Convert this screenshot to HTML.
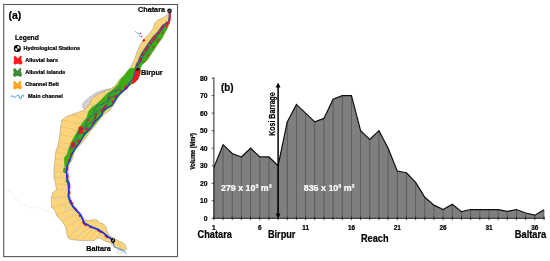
<!DOCTYPE html>
<html><head><meta charset="utf-8"><title>Kosi figure</title>
<style>
html,body{margin:0;padding:0;background:#fff;}
body{width:550px;height:261px;overflow:hidden;}
svg{display:block}
text{font-family:"Liberation Sans",sans-serif;font-weight:bold;fill:#000;stroke:#000;stroke-width:0.22px;stroke-linejoin:round}
</style></head><body>
<svg width="550" height="261" viewBox="0 0 550 261">
<defs>
<filter id="soft" x="-5%" y="-5%" width="110%" height="110%"><feGaussianBlur stdDeviation="0.42"/></filter>
<filter id="soft2" x="-10%" y="-10%" width="120%" height="120%"><feGaussianBlur stdDeviation="0.3"/></filter>
</defs>
<rect width="550" height="261" fill="#fff"/>
<!-- map frame -->
<rect x="3.7" y="4.5" width="173.8" height="252.1" fill="#fff" stroke="#5a5a5a" stroke-width="1.1"/>
<g id="map" filter="url(#soft)">
<path d="M5,190 l3,2 l2,-1 l3,3 l2,5 l3,1 l2,4 l4,2 l3,-1 l3,3 l4,-2 l3,2 l4,0 l3,3 l4,-1 l3,-3 l3,1" fill="none" stroke="#d9d2c2" stroke-width="0.6" stroke-dasharray="1 0.8"/>
<path d="M111.0,88.6 L102.2,90.4 L95.3,93.2 L89.6,97.2 L85.0,101.0 L82.6,104.5 L83.0,108.0 L85.5,109.5 L88.3,108.6 L90.5,103.5 L92.3,99.6 L96.5,95.6 L101.1,92.8 L111.0,90.4 Z" fill="#d2d2d2" stroke="#8f8f8f" stroke-width="0.5"/>
<path d="M168.5,13.0 L167.0,14.9 L162.9,17.8 L158.9,19.5 L156.0,21.8 L154.3,24.1 L153.7,27.0 L152.6,29.3 L150.9,31.6 L149.0,34.2 L147.6,35.4 L145.3,37.7 L141.9,42.3 L139.6,45.8 L138.4,49.2 L136.7,52.7 L135.6,56.1 L134.6,59.5 L132.9,62.9 L131.2,66.3 L128.9,69.2 L126.6,72.1 L124.3,75.0 L122.0,77.3 L119.5,79.4 L117.5,82.0 L115.8,84.9 L112.9,87.2 L110.0,89.2 L106.6,90.6 L103.0,92.0 L99.0,94.0 L95.0,96.0 L91.5,99.5 L89.8,103.4 L86.5,108.0 L83.4,110.3 L78.0,112.4 L72.0,114.5 L66.5,116.5 L62.0,120.0 L60.7,126.5 L59.8,134.2 L58.8,141.8 L57.6,147.0 L55.9,151.0 L55.2,156.9 L54.6,163.8 L54.0,170.7 L54.1,177.6 L55.6,184.0 L56.5,189.8 L53.0,192.5 L51.4,198.0 L51.4,203.0 L51.9,207.6 L55.3,211.0 L56.5,215.7 L62.2,221.4 L65.7,227.2 L66.8,233.0 L68.0,237.8 L71.0,239.4 L74.9,240.0 L81.8,240.5 L88.6,240.6 L94.4,240.4 L97.2,238.4 L99.9,237.8 L102.5,239.6 L105.7,241.4 L110.0,242.5 L112.5,245.0 L114.5,247.5 L118.3,248.0 L122.0,249.8 L125.0,250.5 L126.6,249.0 L125.6,245.4 L122.5,242.6 L119.0,241.2 L114.3,238.6 L108.9,235.2 L108.0,233.0 L106.8,230.5 L106.2,227.0 L103.2,223.8 L99.4,222.8 L97.0,220.0 L91.5,219.8 L88.0,220.8 L85.5,220.2 L83.5,218.0 L79.5,212.5 L75.0,207.0 L71.5,201.5 L70.0,196.0 L69.6,191.0 L69.5,184.0 L68.6,177.2 L68.0,172.0 L68.5,167.2 L69.6,163.8 L71.3,161.5 L73.1,157.0 L73.6,153.4 L75.2,150.0 L77.5,147.0 L80.5,144.5 L83.5,141.0 L86.2,137.5 L89.0,133.2 L92.0,129.5 L95.0,126.0 L97.5,122.5 L100.5,118.4 L103.2,115.3 L106.0,113.0 L109.5,110.5 L111.8,107.5 L114.2,104.0 L115.4,102.0 L117.0,98.7 L119.2,95.8 L122.7,92.4 L126.1,88.9 L129.6,85.5 L132.4,83.5 L135.2,82.0 L137.5,79.6 L139.3,76.1 L140.4,72.1 L140.4,68.1 L141.6,65.2 L145.3,62.0 L148.2,59.0 L150.5,55.0 L152.8,51.5 L155.1,48.1 L157.4,44.6 L159.7,41.2 L162.0,38.3 L163.5,35.0 L165.2,32.1 L167.0,28.7 L168.7,25.2 L169.3,21.8 L170.4,19.5 L170.6,14.9 L169.6,11.8 Z" fill="#fcd47a" stroke="#a59b86" stroke-width="0.6" stroke-linejoin="round"/>
<ellipse cx="119.8" cy="251.8" rx="2.6" ry="1.6" fill="#fff" stroke="#b5b5b5" stroke-width="0.5"/>
<g stroke="#c4a468" stroke-width="0.4" fill="none" opacity="0.8"><line x1="137.5" y1="51.5" x2="141.5" y2="54.0"/><line x1="135.3" y1="57.0" x2="139.5" y2="59.5"/><line x1="133.2" y1="63.0" x2="137.5" y2="65.5"/><line x1="149.5" y1="36.0" x2="154.0" y2="39.0"/><line x1="155.0" y1="28.0" x2="159.5" y2="31.5"/><line x1="103.0" y1="92.0" x2="107.5" y2="97.0"/><line x1="95.0" y1="96.0" x2="100.5" y2="102.5"/><line x1="89.6" y1="103.4" x2="94.5" y2="108.0"/><line x1="83.4" y1="110.3" x2="89.0" y2="113.5"/><line x1="72.0" y1="114.5" x2="84.0" y2="118.5"/><line x1="62.0" y1="120.0" x2="80.5" y2="124.0"/><line x1="60.7" y1="126.5" x2="77.0" y2="130.5"/><line x1="59.8" y1="134.2" x2="74.0" y2="137.5"/><line x1="58.8" y1="141.8" x2="70.5" y2="144.0"/><line x1="57.6" y1="147.0" x2="68.0" y2="149.5"/><line x1="56.5" y1="152.0" x2="66.0" y2="154.5"/><line x1="55.3" y1="158.8" x2="64.5" y2="160.5"/><line x1="54.7" y1="165.0" x2="65.0" y2="166.5"/><line x1="54.7" y1="171.0" x2="65.5" y2="172.5"/><line x1="54.7" y1="177.2" x2="66.5" y2="178.0"/><line x1="56.0" y1="184.0" x2="67.5" y2="184.5"/><line x1="56.5" y1="189.8" x2="67.5" y2="190.0"/><line x1="51.4" y1="198.0" x2="67.5" y2="196.5"/><line x1="51.9" y1="207.6" x2="70.0" y2="203.0"/><line x1="56.5" y1="215.7" x2="73.0" y2="208.5"/><line x1="62.2" y1="221.4" x2="77.0" y2="214.0"/><line x1="65.7" y1="227.2" x2="81.0" y2="219.0"/><line x1="68.0" y1="237.5" x2="83.5" y2="224.0"/><line x1="74.9" y1="238.9" x2="89.0" y2="227.5"/><line x1="81.8" y1="239.6" x2="93.0" y2="229.0"/><line x1="88.6" y1="240.0" x2="97.0" y2="230.0"/><line x1="97.0" y1="237.2" x2="101.0" y2="232.5"/><line x1="118.0" y1="241.3" x2="121.0" y2="249.4"/></g>
<g fill="#c9d3ee"><ellipse cx="60.0" cy="160.0" rx="1.2" ry="0.7"/><ellipse cx="62.5" cy="166.0" rx="0.8" ry="1.0"/><ellipse cx="59.5" cy="172.0" rx="0.9" ry="0.6"/><ellipse cx="61.0" cy="178.0" rx="0.7" ry="1.0"/><ellipse cx="63.0" cy="186.0" rx="1.0" ry="0.7"/><ellipse cx="58.0" cy="199.0" rx="1.6" ry="0.7"/><ellipse cx="62.0" cy="204.0" rx="1.0" ry="0.7"/><ellipse cx="66.0" cy="209.0" rx="1.3" ry="0.8"/><ellipse cx="70.5" cy="215.0" rx="1.5" ry="0.8"/><ellipse cx="74.0" cy="221.0" rx="1.2" ry="0.7"/><ellipse cx="76.5" cy="229.0" rx="1.3" ry="1.0"/><ellipse cx="81.0" cy="233.0" rx="1.0" ry="0.7"/><ellipse cx="60.5" cy="194.0" rx="1.0" ry="0.6"/><ellipse cx="65.0" cy="218.0" rx="0.8" ry="0.6"/></g>
<path d="M167.8,22.0 L162.5,25.0 L159.8,28.7 L157.5,32.0 L154.0,35.4 L151.1,38.9 L148.2,42.9 L145.9,46.4 L143.6,49.8 L141.3,53.3 L139.6,56.7 L138.2,60.7 L136.0,64.6 L135.2,68.0 L130.0,68.6 L128.9,69.6 L126.6,72.5 L124.3,75.4 L122.0,77.7 L120.2,79.9 L118.1,84.3 L114.6,87.8 L111.2,90.7 L107.7,93.0 L103.5,97.3 L99.5,101.5 L96.0,104.5 L91.8,107.4 L88.9,110.9 L87.8,114.3 L86.6,117.8 L83.7,121.2 L81.4,124.7 L79.0,127.5 L77.2,131.7 L73.8,137.5 L70.9,143.2 L68.6,149.0 L66.9,154.7 L64.6,157.5 L64.4,161.0 L64.8,166.5 L67.5,166.5 L68.5,164.0 L70.2,161.0 L71.0,158.0 L72.7,154.5 L76.0,148.8 L80.0,143.0 L83.6,137.3 L85.5,135.1 L87.3,132.8 L90.5,129.3 L93.5,125.8 L96.5,122.3 L99.3,118.8 L102.3,115.3 L103.8,112.2 L107.2,109.2 L112.2,106.0 L115.6,101.0 L118.0,97.5 L120.9,94.1 L124.4,90.6 L131.0,84.3 L135.2,82.0 L137.5,79.6 L139.3,76.1 L140.2,72.1 L140.2,68.3 L140.3,68.0 L142.0,64.6 L146.5,60.7 L149.3,56.7 L151.5,53.3 L153.9,49.8 L156.2,46.4 L158.5,42.9 L161.5,38.9 L163.3,35.4 L165.2,32.0 L167.0,28.7 L168.6,25.0 L169.6,22.0 Z" fill="#3dab12" stroke="#3dab12" stroke-width="0.5" stroke-linejoin="round"/>
<g fill="#3dab12"><ellipse cx="67.2" cy="158.6" rx="2.6" ry="3"/><ellipse cx="64.9" cy="170.2" rx="1.8" ry="2.9"/><ellipse cx="66.4" cy="181" rx="0.9" ry="1.8"/></g>
<g fill="none" stroke="#f0141e" stroke-linecap="butt" stroke-linejoin="round">
<path d="M170.0,12.8 L169.9,18.0 L169.0,22.5 L166.5,25.0" stroke-width="1.7"/>
<path d="M163.8,25.0 L161.3,28.7 L159.1,32.0 L156.0,35.4 L153.3,38.9 L150.4,42.9 L148.1,46.4 L145.8,49.8 L143.4,53.3 L141.6,56.7 L139.9,60.7 L137.3,64.6 L136.3,68.0" stroke-width="1.9" stroke-dasharray="7 1.2 4 1.5 6 1 3 2"/>
<path d="M167.3,25.0 L165.4,28.7 L163.5,32.0 L161.3,35.4 L159.2,38.9 L156.2,42.9 L153.9,46.4 L151.6,49.8 L149.3,53.3 L147.2,56.7 L144.7,60.7 L140.7,64.6 L139.2,68.0" stroke-width="1.1" stroke-dasharray="3 5 2 6 4 5 2.5 7"/>
<path d="M128.9,83.5 L123.0,89.2 L118.8,92.0 L116.1,95.6 L114.2,99.6 L109.9,103.7 L104.6,106.6 L102.0,110.4 L100.3,113.8 L96.1,116.4 L93.7,119.7 L92.1,124.2 L89.0,127.6 L85.3,130.1 L83.6,132.9 L82.4,136.3 L78.4,141.6 L74.3,146.9 L71.7,153.2 L70.2,157.4 L68.6,160.0 L67.2,163.0 L66.9,166.5" stroke-width="1.9" stroke-dasharray="0 3 3 4 2 5 3.5 3 2 6 4 3 2 4"/>
<path d="M67.3,167.0 L67.0,172.0 L67.8,178.0 L69.2,184.0 L69.6,190.0 L69.2,196.0 L71.0,201.6 L74.4,207.0 L78.2,213.4 L81.0,217.6 L83.2,222.6 L86.0,225.6 L90.0,226.8 L96.8,229.8 L101.6,232.4 L104.6,235.2 L108.0,237.6" stroke-width="1.9" stroke-dasharray="4 4 2.5 5 6 3 3 6 5 4"/>
</g>
<g fill="#f0141e"><path d="M135.4,68.8 L140.2,68.5 L140.3,72.5 L139.2,76.3 L137.8,79.4 L135.5,82.0 L132.8,83.8 L130.6,83.6 L132.6,80.4 L133.6,77.0 L134.5,73.2 Z"/><path d="M78.6,127.4 L81.0,126.0 L83.0,127.5 L83.0,131.0 L81.5,133.5 L79.5,134.6 L78.2,133.0 L78.8,130.0 Z"/><path d="M71.2,142.4 L74.0,141.6 L75.2,143.4 L74.0,146.2 L72.6,148.4 L70.8,148.6 L70.8,145.4 Z"/><ellipse cx="126.2" cy="87.8" rx="2.6" ry="1.6" transform="rotate(-45 126.2 87.8)"/><ellipse cx="115.8" cy="96.4" rx="1.9" ry="1.2" transform="rotate(-50 115.8 96.4)"/><ellipse cx="109.5" cy="97.6" rx="1.2" ry="0.9" transform="rotate(-45 109.5 97.6)"/><ellipse cx="116.0" cy="90.0" rx="0.9" ry="0.7" transform="rotate(0 116.0 90.0)"/><ellipse cx="103.6" cy="109.0" rx="1.6" ry="1.1" transform="rotate(-45 103.6 109.0)"/><ellipse cx="96.5" cy="114.3" rx="1.3" ry="1.0" transform="rotate(-45 96.5 114.3)"/><ellipse cx="94.6" cy="121.0" rx="1.3" ry="0.9" transform="rotate(-50 94.6 121.0)"/><ellipse cx="88.8" cy="120.0" rx="1.1" ry="0.9" transform="rotate(-50 88.8 120.0)"/><ellipse cx="143.8" cy="40.4" rx="1.5" ry="1.2" transform="rotate(-40 143.8 40.4)"/><ellipse cx="141.6" cy="36.6" rx="0.8" ry="0.7" transform="rotate(0 141.6 36.6)"/><ellipse cx="140.6" cy="33.4" rx="0.7" ry="0.6" transform="rotate(0 140.6 33.4)"/><ellipse cx="166.2" cy="23.5" rx="0.8" ry="2.2" transform="rotate(15 166.2 23.5)"/></g>
<g fill="none" stroke="#2438dc" stroke-linejoin="round">
<path d="M164.8,25.0 L162.9,28.7 L160.1,32.0 L157.1,35.4 L155.6,38.9 L152.0,42.9 L149.1,46.4 L147.8,49.8 L145.4,53.3 L142.6,56.7 L141.3,60.7 L138.5,64.6 L136.9,68.0" stroke-width="0.8"/><path d="M135.6,68.6 L134.6,73.2 L133.4,77.8 L131.0,81.0 L127.8,84.0" stroke-width="0.9"/>
<path d="M120.5,86.7 L117.3,90.5 L112.5,92.0 L109.3,94.6 L107.3,101.1 L102.3,104.3 L97.1,105.6 L94.7,109.6 L93.7,114.5 L90.3,116.6 L87.6,119.0 L86.1,124.1 L84.0,128.3 L80.4,129.1 L78.4,132.7 L76.4,139.8 L72.9,145.4 L69.2,149.9" stroke-width="0.65"/><path d="M115.9,95.4 L111.6,96.9 L108.2,102.0 L105.1,107.1 L100.9,109.3 L96.7,111.1 L95.2,115.7 L94.1,120.1 L90.5,122.3 L87.0,125.1 L85.3,130.1" stroke-width="0.5"/>
<path d="M169.2,13.0 L169.0,17.0 L168.2,22.0 L162.9,25.0 L160.3,28.7 L158.0,32.0 L154.7,35.4 L151.8,38.9 L148.9,42.9 L146.6,46.4 L144.3,49.8 L142.0,53.3 L140.3,56.7 L138.8,60.7 L136.4,64.6 L135.6,68.0" stroke-width="0.8"/>
<path d="M129.9,83.9 L124.1,90.3 L120.2,93.4 L117.0,96.5 L115.0,100.4 L111.7,105.5 L106.2,108.2 L102.8,111.2 L101.7,114.8 L98.5,118.2 L95.2,121.1 L92.8,124.9 L90.2,128.9 L86.7,131.9 L84.5,134.0 L83.1,136.8 L79.7,142.7 L75.3,148.1 L72.1,153.7 L70.7,157.8 L69.8,160.7 L67.9,163.6 L67.2,166.5 L66.8,166.0 L66.4,172.0 L67.0,178.0 L68.4,184.0 L68.8,190.0 L68.4,196.0 L70.2,202.0 L73.6,207.5 L78.4,212.5 L80.4,214.5 L82.3,218.7 L84.6,223.3 L89.2,225.8 L93.8,227.9 L98.4,229.6 L103.0,232.6 L107.6,236.4 L112.4,239.8 L113.6,244.0" stroke-width="1.3"/><path d="M66.4,172.0 L67.0,178.0 L68.4,184.0 L68.8,190.0 L68.4,196.0 L70.2,202.0 L73.6,207.5 L78.4,212.5 L80.4,214.5 L82.3,218.7 L84.6,223.3 L89.2,225.8 L93.8,227.9 L98.4,229.6 L103.0,232.6 L107.6,236.4 L112.4,239.8" stroke-width="1.7"/>
</g>
<path d="M134.8,31.6 l1.6,0.4 l1.2,1.4 l1.4,0.2 l0.8,1.6 l0.6,2" fill="none" stroke="#3a8be0" stroke-width="0.7"/>
<path d="M113.6,244 L114.4,246.6 L118.3,248.8 L123,250.2 L126,253.5" fill="none" stroke="#3a8be0" stroke-width="1"/>
</g>
<g id="markers" filter="url(#soft2)">
<g transform="translate(169.5,10.8)"><circle r="1.7" fill="#fff" stroke="#000" stroke-width="1.19"/><path d="M0,0 L0,-1.7 A1.7,1.7 0 0 0 -1.7,0 Z M0,0 L0,1.7 A1.7,1.7 0 0 0 1.7,0 Z" fill="#000"/></g>
<g transform="translate(113,240.4)"><circle r="1.65" fill="#fff" stroke="#000" stroke-width="1.15"/><path d="M0,0 L0,-1.65 A1.65,1.65 0 0 0 -1.65,0 Z M0,0 L0,1.65 A1.65,1.65 0 0 0 1.65,0 Z" fill="#000"/></g>
<path d="M136.4,68.4 l2.4,-0.4 l0.8,1.6 l-1.6,1.2 l-1.8,-0.6z" fill="#000"/>
</g>
<g id="maplabels" filter="url(#soft2)">
<text x="8.4" y="18.5" font-size="10.6" textLength="12.8" lengthAdjust="spacingAndGlyphs">(a)</text>
<text x="138" y="12.45" font-size="7.7" textLength="27" lengthAdjust="spacingAndGlyphs">Chatara</text>
<text x="140.9" y="74.8" font-size="7.7" textLength="21.8" lengthAdjust="spacingAndGlyphs">Birpur</text>
<text x="86.2" y="251.4" font-size="7.7" textLength="24.6" lengthAdjust="spacingAndGlyphs">Baltara</text>
<text x="15" y="39.9" font-size="6.7">Legend</text>
<g font-size="5.5">
<text x="23.6" y="50.3">Hydrological Stations</text>
<text x="25.3" y="62.3">Alluvial bars</text>
<text x="25.3" y="74.3">Alluvial islands</text>
<text x="25.3" y="86.3">Channel Belt</text>
<text x="28" y="97.7">Main channel</text>
</g>
<g transform="translate(17.3,48.4)"><circle r="2.95" fill="#fff" stroke="#000" stroke-width="1.12"/><path d="M0,0 L0,-2.95 A2.95,2.95 0 0 0 -2.95,0 Z M0,0 L0,2.95 A2.95,2.95 0 0 0 2.95,0 Z" fill="#000"/></g>
<path d="M-3.1,-4.2 C-1.9,-4.4 -1,-2.2 0,-1.7 C1,-2.2 2,-4.8 3.3,-4.4 C4.5,-4 3.0,-1.6 3.4,-0.4 C4.6,1 4.8,3 3.7,4 C2.6,4.8 1,3.5 0,3.2 C-1,3.5 -2.6,4.8 -3.7,4 C-4.8,3 -4.4,1 -3.6,-0.2 C-4.6,-1.5 -4.4,-4 -3.1,-4.2Z" transform="translate(17.9,60.2)" fill="#ff1a1a"/>
<path d="M-3.1,-4.2 C-1.9,-4.4 -1,-2.2 0,-1.7 C1,-2.2 2,-4.8 3.3,-4.4 C4.5,-4 3.0,-1.6 3.4,-0.4 C4.6,1 4.8,3 3.7,4 C2.6,4.8 1,3.5 0,3.2 C-1,3.5 -2.6,4.8 -3.7,4 C-4.8,3 -4.4,1 -3.6,-0.2 C-4.6,-1.5 -4.4,-4 -3.1,-4.2Z" transform="translate(17.5,72.5)" fill="#3a8c33"/>
<path d="M-3.1,-4.2 C-1.9,-4.4 -1,-2.2 0,-1.7 C1,-2.2 2,-4.8 3.3,-4.4 C4.5,-4 3.0,-1.6 3.4,-0.4 C4.6,1 4.8,3 3.7,4 C2.6,4.8 1,3.5 0,3.2 C-1,3.5 -2.6,4.8 -3.7,4 C-4.8,3 -4.4,1 -3.6,-0.2 C-4.6,-1.5 -4.4,-4 -3.1,-4.2Z" transform="translate(17.5,85.1)" fill="#ffa41c"/>
<path d="M10.8,96.6 q1.2,-1.6 2.4,-0.2 t2.2,0.6 t2,-1.8 t2,2.2 t2.2,-0.6 t2,-0.2" fill="none" stroke="#1f7ff0" stroke-width="0.9"/>
</g>
<!-- chart -->
<g id="chart" filter="url(#soft2)">
<path d="M213.90,218.30 L213.90,167.48 L223.07,144.69 L232.24,153.46 L241.41,156.96 L250.58,148.20 L259.75,156.96 L268.91,156.96 L278.08,165.73 L287.25,121.91 L296.42,104.39 L305.59,113.15 L314.76,121.91 L323.93,118.41 L333.10,99.13 L342.27,95.63 L351.44,95.63 L360.60,130.68 L369.77,139.44 L378.94,130.68 L388.11,148.20 L397.28,170.98 L406.45,172.74 L415.62,182.37 L424.79,197.27 L433.96,205.16 L443.12,209.54 L452.29,204.28 L461.46,211.64 L470.63,209.54 L479.80,209.54 L488.97,209.54 L498.14,209.54 L507.31,211.29 L516.48,209.54 L525.65,213.04 L534.82,215.15 L543.98,209.89 L543.98,218.30 Z" fill="#7f7f7f"/>
<g stroke="#4d4d4d" stroke-width="0.7"><line x1="213.90" y1="167.48" x2="213.90" y2="218.30"/><line x1="223.07" y1="144.69" x2="223.07" y2="218.30"/><line x1="232.24" y1="153.46" x2="232.24" y2="218.30"/><line x1="241.41" y1="156.96" x2="241.41" y2="218.30"/><line x1="250.58" y1="148.20" x2="250.58" y2="218.30"/><line x1="259.75" y1="156.96" x2="259.75" y2="218.30"/><line x1="268.91" y1="156.96" x2="268.91" y2="218.30"/><line x1="278.08" y1="165.73" x2="278.08" y2="218.30"/><line x1="287.25" y1="121.91" x2="287.25" y2="218.30"/><line x1="296.42" y1="104.39" x2="296.42" y2="218.30"/><line x1="305.59" y1="113.15" x2="305.59" y2="218.30"/><line x1="314.76" y1="121.91" x2="314.76" y2="218.30"/><line x1="323.93" y1="118.41" x2="323.93" y2="218.30"/><line x1="333.10" y1="99.13" x2="333.10" y2="218.30"/><line x1="342.27" y1="95.63" x2="342.27" y2="218.30"/><line x1="351.44" y1="95.63" x2="351.44" y2="218.30"/><line x1="360.60" y1="130.68" x2="360.60" y2="218.30"/><line x1="369.77" y1="139.44" x2="369.77" y2="218.30"/><line x1="378.94" y1="130.68" x2="378.94" y2="218.30"/><line x1="388.11" y1="148.20" x2="388.11" y2="218.30"/><line x1="397.28" y1="170.98" x2="397.28" y2="218.30"/><line x1="406.45" y1="172.74" x2="406.45" y2="218.30"/><line x1="415.62" y1="182.37" x2="415.62" y2="218.30"/><line x1="424.79" y1="197.27" x2="424.79" y2="218.30"/><line x1="433.96" y1="205.16" x2="433.96" y2="218.30"/><line x1="443.12" y1="209.54" x2="443.12" y2="218.30"/><line x1="452.29" y1="204.28" x2="452.29" y2="218.30"/><line x1="461.46" y1="211.64" x2="461.46" y2="218.30"/><line x1="470.63" y1="209.54" x2="470.63" y2="218.30"/><line x1="479.80" y1="209.54" x2="479.80" y2="218.30"/><line x1="488.97" y1="209.54" x2="488.97" y2="218.30"/><line x1="498.14" y1="209.54" x2="498.14" y2="218.30"/><line x1="507.31" y1="211.29" x2="507.31" y2="218.30"/><line x1="516.48" y1="209.54" x2="516.48" y2="218.30"/><line x1="525.65" y1="213.04" x2="525.65" y2="218.30"/><line x1="534.82" y1="215.15" x2="534.82" y2="218.30"/><line x1="543.98" y1="209.89" x2="543.98" y2="218.30"/></g>
<path d="M213.90,167.48 L223.07,144.69 L232.24,153.46 L241.41,156.96 L250.58,148.20 L259.75,156.96 L268.91,156.96 L278.08,165.73 L287.25,121.91 L296.42,104.39 L305.59,113.15 L314.76,121.91 L323.93,118.41 L333.10,99.13 L342.27,95.63 L351.44,95.63 L360.60,130.68 L369.77,139.44 L378.94,130.68 L388.11,148.20 L397.28,170.98 L406.45,172.74 L415.62,182.37 L424.79,197.27 L433.96,205.16 L443.12,209.54 L452.29,204.28 L461.46,211.64 L470.63,209.54 L479.80,209.54 L488.97,209.54 L498.14,209.54 L507.31,211.29 L516.48,209.54 L525.65,213.04 L534.82,215.15 L543.98,209.89" fill="none" stroke="#111" stroke-width="1.2" stroke-linejoin="miter"/>
<line x1="213.9" y1="77.5" x2="213.9" y2="218.8" stroke="#222" stroke-width="1"/>
<line x1="213.4" y1="218.3" x2="545" y2="218.3" stroke="#222" stroke-width="1"/>
<g stroke="#222" stroke-width="0.8"><line x1="213.90" y1="216.50" x2="213.90" y2="220.10"/><line x1="223.07" y1="216.50" x2="223.07" y2="220.10"/><line x1="232.24" y1="216.50" x2="232.24" y2="220.10"/><line x1="241.41" y1="216.50" x2="241.41" y2="220.10"/><line x1="250.58" y1="216.50" x2="250.58" y2="220.10"/><line x1="259.75" y1="216.50" x2="259.75" y2="220.10"/><line x1="268.91" y1="216.50" x2="268.91" y2="220.10"/><line x1="278.08" y1="216.50" x2="278.08" y2="220.10"/><line x1="287.25" y1="216.50" x2="287.25" y2="220.10"/><line x1="296.42" y1="216.50" x2="296.42" y2="220.10"/><line x1="305.59" y1="216.50" x2="305.59" y2="220.10"/><line x1="314.76" y1="216.50" x2="314.76" y2="220.10"/><line x1="323.93" y1="216.50" x2="323.93" y2="220.10"/><line x1="333.10" y1="216.50" x2="333.10" y2="220.10"/><line x1="342.27" y1="216.50" x2="342.27" y2="220.10"/><line x1="351.44" y1="216.50" x2="351.44" y2="220.10"/><line x1="360.60" y1="216.50" x2="360.60" y2="220.10"/><line x1="369.77" y1="216.50" x2="369.77" y2="220.10"/><line x1="378.94" y1="216.50" x2="378.94" y2="220.10"/><line x1="388.11" y1="216.50" x2="388.11" y2="220.10"/><line x1="397.28" y1="216.50" x2="397.28" y2="220.10"/><line x1="406.45" y1="216.50" x2="406.45" y2="220.10"/><line x1="415.62" y1="216.50" x2="415.62" y2="220.10"/><line x1="424.79" y1="216.50" x2="424.79" y2="220.10"/><line x1="433.96" y1="216.50" x2="433.96" y2="220.10"/><line x1="443.12" y1="216.50" x2="443.12" y2="220.10"/><line x1="452.29" y1="216.50" x2="452.29" y2="220.10"/><line x1="461.46" y1="216.50" x2="461.46" y2="220.10"/><line x1="470.63" y1="216.50" x2="470.63" y2="220.10"/><line x1="479.80" y1="216.50" x2="479.80" y2="220.10"/><line x1="488.97" y1="216.50" x2="488.97" y2="220.10"/><line x1="498.14" y1="216.50" x2="498.14" y2="220.10"/><line x1="507.31" y1="216.50" x2="507.31" y2="220.10"/><line x1="516.48" y1="216.50" x2="516.48" y2="220.10"/><line x1="525.65" y1="216.50" x2="525.65" y2="220.10"/><line x1="534.82" y1="216.50" x2="534.82" y2="220.10"/><line x1="543.98" y1="216.50" x2="543.98" y2="220.10"/><line x1="211.70" y1="218.30" x2="213.90" y2="218.30"/><line x1="211.70" y1="200.78" x2="213.90" y2="200.78"/><line x1="211.70" y1="183.25" x2="213.90" y2="183.25"/><line x1="211.70" y1="165.73" x2="213.90" y2="165.73"/><line x1="211.70" y1="148.20" x2="213.90" y2="148.20"/><line x1="211.70" y1="130.68" x2="213.90" y2="130.68"/><line x1="211.70" y1="113.15" x2="213.90" y2="113.15"/><line x1="211.70" y1="95.63" x2="213.90" y2="95.63"/><line x1="211.70" y1="78.10" x2="213.90" y2="78.10"/></g>
<g font-size="6.8"><text x="207.6" y="220.70" text-anchor="end">0</text><text x="207.6" y="203.18" text-anchor="end">10</text><text x="207.6" y="185.65" text-anchor="end">20</text><text x="207.6" y="168.13" text-anchor="end">30</text><text x="207.6" y="150.60" text-anchor="end">40</text><text x="207.6" y="133.08" text-anchor="end">50</text><text x="207.6" y="115.55" text-anchor="end">60</text><text x="207.6" y="98.03" text-anchor="end">70</text><text x="207.6" y="80.50" text-anchor="end">80</text></g>
<g font-size="6.4"><text x="213.90" y="229.5" text-anchor="middle">1</text><text x="259.75" y="229.5" text-anchor="middle">6</text><text x="305.59" y="229.5" text-anchor="middle">11</text><text x="351.44" y="229.5" text-anchor="middle">16</text><text x="397.28" y="229.5" text-anchor="middle">21</text><text x="443.12" y="229.5" text-anchor="middle">26</text><text x="488.97" y="229.5" text-anchor="middle">31</text><text x="534.82" y="229.5" text-anchor="middle">36</text></g>
<text transform="translate(194.9,151.4) rotate(-90)" text-anchor="middle" font-size="6.9" textLength="36.6" lengthAdjust="spacingAndGlyphs">Volume (Mm³)</text>
<!-- barrage arrow -->
<line x1="278.1" y1="86" x2="278.1" y2="215" stroke="#000" stroke-width="1.5"/>
<path d="M278.1,82.4 L280.5,87.6 L275.7,87.6 Z M278.1,218.8 L280.5,213.6 L275.7,213.6 Z" fill="#000"/>
<text transform="translate(274.6,114) rotate(-90)" text-anchor="middle" font-size="8.2" textLength="43.4" lengthAdjust="spacingAndGlyphs">Kosi Barrage</text>
<text x="220.9" y="90.6" font-size="10.4" textLength="12.6" lengthAdjust="spacingAndGlyphs">(b)</text>
<g fill="#fff" font-size="9.6">
<text x="221" y="191.1" style="fill:#fff;stroke:#fff" textLength="50.7" lengthAdjust="spacingAndGlyphs">279 x 10³ m³</text>
<text x="303.7" y="191.1" style="fill:#fff;stroke:#fff" textLength="50.9" lengthAdjust="spacingAndGlyphs">835 x 10³ m³</text>
</g>
<g font-size="10.1">
<text x="197.6" y="238.3" textLength="34.3" lengthAdjust="spacingAndGlyphs">Chatara</text>
<text x="267.9" y="238.3" textLength="27.5" lengthAdjust="spacingAndGlyphs">Birpur</text>
<text x="361" y="242.4" textLength="27.5" lengthAdjust="spacingAndGlyphs">Reach</text>
<text x="514.8" y="238.2" textLength="31.5" lengthAdjust="spacingAndGlyphs">Baltara</text>
</g>
</g>
</svg>
</body></html>
